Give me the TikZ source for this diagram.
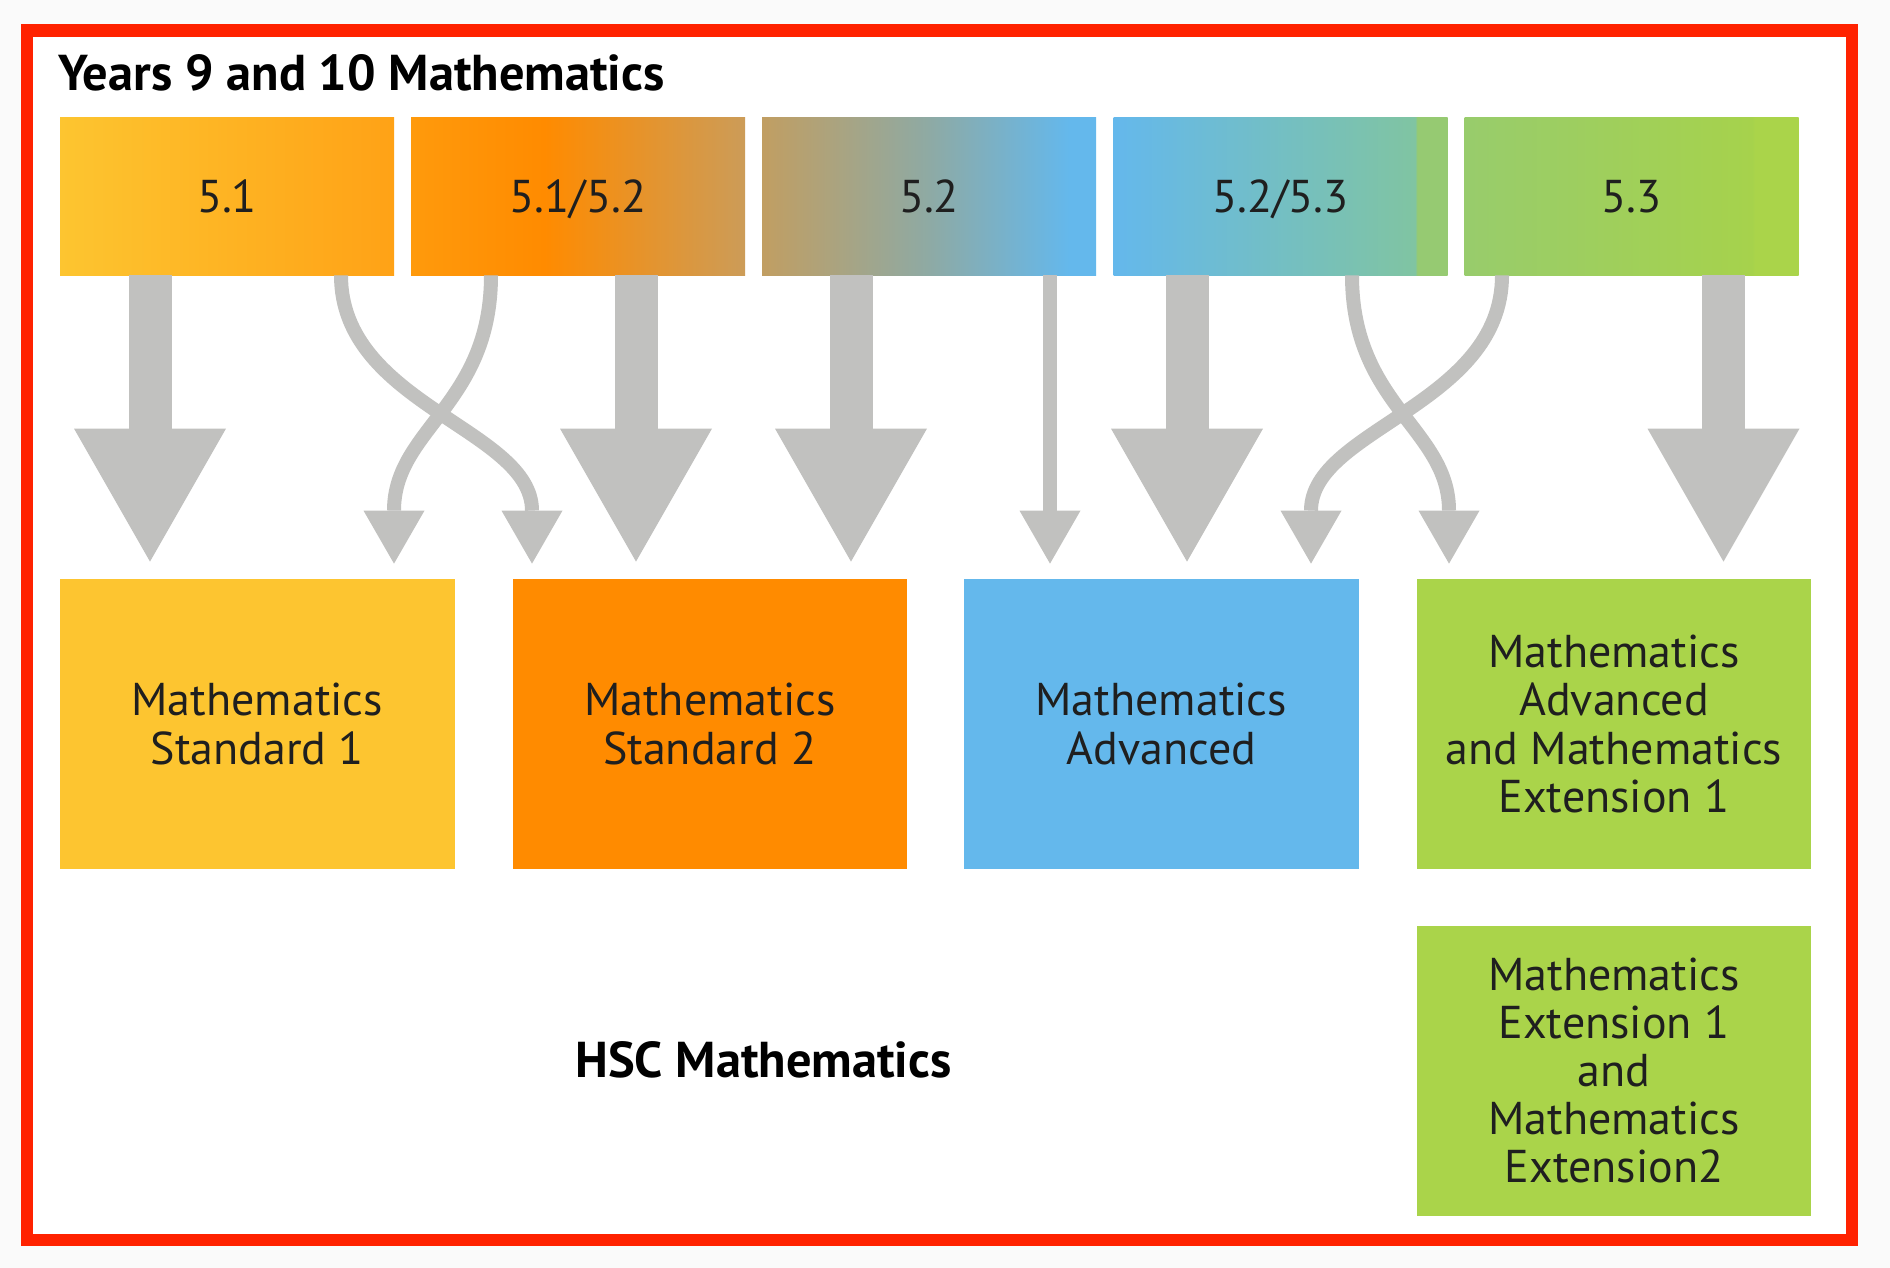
\documentclass[tikz,border=0pt]{standalone}
\usepackage{fontspec}
\setmainfont{PT Sans}
\usetikzlibrary{arrows.meta}

\definecolor{pagegray}{HTML}{FAFAFA}
\definecolor{framered}{HTML}{FF2200}
\definecolor{arrowgray}{HTML}{C1C1BF}
\definecolor{stdone}{HTML}{FDC530}
\definecolor{stdtwo}{HTML}{FF8B00}
\definecolor{advblue}{HTML}{64B8EC}
\definecolor{extgreen}{HTML}{AAD44A}
\definecolor{fiveone}{HTML}{FFA216}
\definecolor{tanbrown}{HTML}{CC9C58}
\definecolor{tanleft}{HTML}{C19E62}
\definecolor{greyteal}{HTML}{8EAAA4}
\definecolor{tealmix}{HTML}{80C4A2}
\definecolor{stripgreen}{HTML}{96CA72}
\definecolor{greenleft}{HTML}{98CC6C}
\definecolor{greenmid}{HTML}{A6D24C}
\definecolor{orangeleft}{HTML}{FF9A0C}

% shadings: the box width maps to 25bp..75bp
\pgfdeclarehorizontalshading{shadeonetwo}{100bp}{color(0bp)=(orangeleft); color(25bp)=(orangeleft); color(45bp)=(stdtwo); color(75bp)=(tanbrown); color(100bp)=(tanbrown)}
\pgfdeclarehorizontalshading{shadetwo}{100bp}{color(0bp)=(tanleft); color(25bp)=(tanleft); color(50bp)=(greyteal); color(71bp)=(advblue); color(100bp)=(advblue)}
\pgfdeclarehorizontalshading{shadetwothree}{100bp}{color(0bp)=(advblue); color(25bp)=(advblue); color(70.2bp)=(tealmix); color(70.4bp)=(stripgreen); color(100bp)=(stripgreen)}
\pgfdeclarehorizontalshading{shadethree}{100bp}{color(0bp)=(greenleft); color(25bp)=(greenleft); color(68bp)=(greenmid); color(68.5bp)=(extgreen); color(100bp)=(extgreen)}

\begin{document}
\begin{tikzpicture}[x=0.5pt,y=-0.5pt,
  topbox/.style={shape=rectangle,minimum width=167pt,minimum height=78.5pt,inner sep=0pt,text depth=0pt,font=\fontsize{23pt}{24pt}\selectfont,text=black!88},
  hscbox/.style={shape=rectangle,minimum width=197.25pt,minimum height=145pt,inner sep=0pt,align=center,font=\fontsize{23pt}{24.1pt}\selectfont,text=black!88},
  headline/.style={inner sep=0pt,font=\fontsize{25.2pt}{27pt}\selectfont\bfseries},
  bigarrow/.style={arrowgray,line width=21.5pt,-{Triangle[width=76pt,length=66.5pt,line width=0pt]},shorten >=8.5pt},
  thinarrow/.style={arrowgray,line width=7pt,-{Triangle[width=30.5pt,length=26.5pt,line width=0pt]},shorten >=7.5pt}]
\fill[pagegray] (0,0) rectangle (1890,1268);
\draw[framered,line width=6.25pt,fill=white] (27,30.5) rectangle (1852,1240);
\node[headline,anchor=base west](title) at (58,90.7){Years 9 and 10 Mathematics};
% Years 9 and 10 stages
\node[topbox,left color=stdone,right color=fiveone](n51) at (227,196.5){5.1};
\node[topbox,shade,shading=shadeonetwo](n5152) at (578,196.5){5.1/5.2};
\node[topbox,shade,shading=shadetwo](n52) at (929,196.5){5.2};
\node[topbox,shade,shading=shadetwothree](n5253) at (1280.5,196.5){5.2/5.3};
\node[topbox,shade,shading=shadethree](n53) at (1631.5,196.5){5.3};
% HSC courses
\node[hscbox,fill=stdone](std1) at (257.3,724){Mathematics\\Standard 1};
\node[hscbox,fill=stdtwo](std2) at (709.8,724){Mathematics\\Standard 2};
\node[hscbox,fill=advblue](adv) at (1161.3,724){Mathematics\\Advanced};
\node[hscbox,fill=extgreen](ext1) at (1614,724){Mathematics\\Advanced\\and Mathematics\\Extension 1};
\node[hscbox,fill=extgreen](ext2) at (1614,1070.5){Mathematics\\Extension 1\\and\\Mathematics\\Extension2};
\node[headline,anchor=base](hsc) at (763.5,1077){HSC Mathematics};
% pathways
\draw[bigarrow] (150,0 |- n51.south) -- (150,0 |- std1.north);
\draw[bigarrow] (636,0 |- n5152.south) -- (636,0 |- std2.north);
\draw[bigarrow] (851,0 |- n52.south) -- (851,0 |- std2.north);
\draw[bigarrow] (1187,0 |- n5253.south) -- (1187,0 |- adv.north);
\draw[bigarrow] (1723.5,0 |- n53.south) -- (1723.5,0 |- ext1.north);
\draw[thinarrow] (1050,0 |- n52.south) -- (1050,0 |- adv.north);
\draw[thinarrow] (341,0 |- n51.south) .. controls (341,405) and (532,429) .. (532,0 |- std2.north);
\draw[thinarrow] (491,0 |- n5152.south) .. controls (491,405) and (394,429) .. (394,0 |- std1.north);
\draw[thinarrow] (1352,0 |- n5253.south) .. controls (1352,405) and (1449,429) .. (1449,0 |- ext1.north);
\draw[thinarrow] (1502,0 |- n53.south) .. controls (1502,405) and (1311,429) .. (1311,0 |- adv.north);
\end{tikzpicture}
\end{document}
